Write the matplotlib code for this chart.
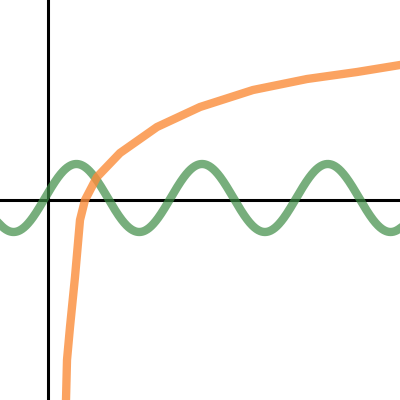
import numpy as np
import matplotlib
matplotlib.use("Agg")
import matplotlib.pyplot as plt

# axes span in data units (1 unit = 40 px)
x_limits = [-1.2, 8.8]
y_limits = [-5.0, 5.0]

# orange curve
orange_x = [0.45, 0.475, 0.55, 0.60, 0.675, 0.80, 0.925, 1.225, 1.80, 2.725, 3.80, 5.125, 6.475, 7.725, 8.80]
orange_y = [-5.0, -4.0, -3.175, -2.675, -1.925, -0.5, 0.0, 0.575, 1.175, 1.825, 2.325, 2.75, 3.025, 3.20, 3.375]

# green wave parameters
sine_amp = 0.85
sine_freq = 2.0
sine_shift = -0.075
sine_offset = 0.05

fig = plt.figure(figsize=(4, 4), dpi=100)
ax = fig.add_axes([0, 0, 1, 1])
ax.set_xlim(x_limits)
ax.set_ylim(y_limits)
ax.axis("off")
ax.axhline(0, color="black", lw=2.2, zorder=1)
ax.axvline(0, color="black", lw=2.2, zorder=1)

xs = np.linspace(x_limits[0], x_limits[1], 800)
ax.plot(xs, sine_offset + sine_amp*np.sin(sine_freq*(xs - sine_shift)),
        color="#3d8c45", lw=6, alpha=0.7, zorder=2)
ax.plot(orange_x, orange_y, color="#fb8c3a", lw=6, alpha=0.8, zorder=3,
        solid_joinstyle="round")

fig.savefig("out.png", dpi=100)
